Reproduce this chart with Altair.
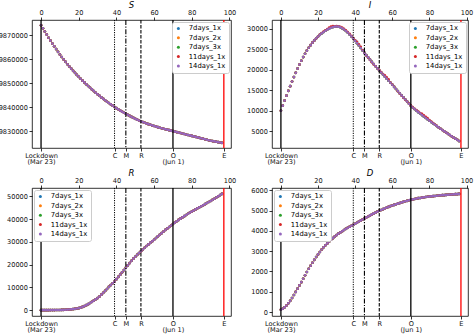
import json
import altair as alt
import pandas as pd

FONT = "DejaVu Sans"

days = list(range(97))
series_names = ["\u20077days_1x", "\u20077days_2x", "\u20077days_3x", "11days_1x", "14days_1x"]
series_colors = ["#1f77b4", "#ff7f0e", "#2ca02c", "#d62728", "#9467bd"]

S_vals = [9874200, 9872900, 9871600, 9870300, 9869000, 9867750, 9866550, 9865400, 9864250, 9863100,
          9862000, 9860950, 9859900, 9858900, 9857900, 9856950, 9856050, 9855150, 9854300, 9853450,
          9852650, 9851850, 9851050, 9850300, 9849550, 9848800, 9848100, 9847400, 9846700, 9846000,
          9845350, 9844700, 9844050, 9843450, 9842850, 9842250, 9841700, 9841150, 9840600, 9840050,
          9839550, 9839050, 9838550, 9838100, 9837650, 9837200, 9836750, 9836300, 9835900, 9835500,
          9835100, 9834750, 9834400, 9834050, 9833750, 9833450, 9833150, 9832850, 9832600, 9832350,
          9832100, 9831850, 9831600, 9831350, 9831150, 9830950, 9830750, 9830550, 9830350, 9830150,
          9829950, 9829750, 9829550, 9829350, 9829150, 9828950, 9828750, 9828550, 9828350, 9828150,
          9827950, 9827750, 9827550, 9827350, 9827150, 9826950, 9826750, 9826550, 9826350, 9826150,
          9825950, 9825800, 9825650, 9825500, 9825350, 9825200, 9825050]

I_vals = [10000, 11250, 12480, 13680, 14850, 16000, 17120, 18200, 19250, 20280,
          21280, 22200, 23080, 23900, 24650, 25350, 26000, 26600, 27150, 27650,
          28100, 28500, 28870, 29200, 29500, 29780, 30020, 30230, 30400, 30500,
          30550, 30500, 30350, 30100, 29800, 29450, 29050, 28600, 28120, 27600,
          27050, 26480, 25900, 25300, 24700, 24100, 23550, 23000, 22450, 21900,
          21380, 20850, 20330, 19820, 19320, 18820, 18320, 17820, 17320, 16830,
          16330, 15820, 15300, 14790, 14270, 13760, 13250, 12740, 12230, 11720,
          11200, 10800, 10410, 10030, 9660, 9300, 8940, 8590, 8240, 7900,
          7560, 7230, 6900, 6580, 6260, 5940, 5620, 5310, 5000, 4690,
          4380, 4080, 3780, 3480, 3190, 2900, 2610]

I_11days_vals = [10000, 11250, 12480, 13680, 14850, 16000, 17120, 18200, 19250, 20280,
                 21280, 22200, 23080, 23900, 24650, 25350, 26000, 26600, 27150, 27650,
                 28100, 28600, 28950, 29300, 29620, 29900, 30300, 30500, 30650, 30600,
                 30650, 30600, 30480, 30250, 29950, 29600, 29200, 28750, 28250, 27700,
                 27200, 26800, 26200, 25600, 24800, 24150, 23500, 22950, 22400, 21850,
                 21300, 20850, 20350, 19900, 19450, 18950, 18650, 18150, 17650, 16900,
                 16400, 15850, 15300, 14750, 14200, 13700, 13200, 12700, 12250, 11750,
                 11300, 10900, 10500, 10150, 9800, 9450, 9250, 8900, 8550, 8200,
                 7700, 7350, 7000, 6650, 6300, 5950, 5600, 5300, 4980, 4680,
                 4370, 4060, 3760, 3470, 3180, 2900, 2620]

R_vals = [0, 5, 10, 15, 20, 30, 40, 50, 60, 80,
          100, 130, 160, 200, 250, 300, 380, 480, 600, 740,
          900, 1150, 1450, 1800, 2200, 2650, 3150, 3650, 4200, 4750,
          5300, 6000, 6800, 7600, 8450, 9300, 10200, 11000, 11800, 12600,
          13600, 14600, 15600, 16600, 17600, 18600, 19650, 20650, 21650, 22600,
          23450, 24250, 25050, 25800, 26600, 27400, 28150, 28850, 29550, 30250,
          30900, 31650, 32400, 33100, 33800, 34500, 35200, 35850, 36500, 37150,
          37800, 38400, 39000, 39600, 40150, 40700, 41250, 41750, 42300, 42800,
          43300, 43750, 44200, 44700, 45150, 45600, 46050, 46500, 47000, 47450,
          47900, 48400, 48900, 49450, 49950, 50500, 51000]

D_vals = [110, 160, 230, 320, 430, 550, 690, 840, 990, 1150,
          1310, 1470, 1640, 1810, 1970, 2130, 2280, 2430, 2570, 2710,
          2840, 2960, 3080, 3190, 3290, 3380, 3470, 3560, 3640, 3720,
          3790, 3860, 3920, 3980, 4040, 4100, 4150, 4200, 4250, 4300,
          4350, 4400, 4460, 4510, 4560, 4610, 4660, 4710, 4760, 4810,
          4860, 4900, 4950, 4990, 5030, 5070, 5110, 5150, 5180, 5220,
          5250, 5280, 5310, 5340, 5370, 5400, 5430, 5460, 5480, 5510,
          5530, 5550, 5570, 5590, 5610, 5620, 5640, 5650, 5670, 5680,
          5690, 5700, 5710, 5720, 5730, 5740, 5750, 5760, 5760, 5770,
          5780, 5790, 5790, 5800, 5810, 5810, 5820]

event_days = [0, 39, 45, 53, 70, 97]
event_labels = [["Lockdown", "(Mar 23)"], ["C"], ["M"], ["R"], ["O", "(Jun 1)"], ["E"]]
top_ticks = [0, 20, 40, 60, 80, 100]
x_domain = [-4.8, 100.8]

label_expr = " : ".join(
    f"datum.value == {d} ? {json.dumps(lab)}" for d, lab in zip(event_days, event_labels)
) + " : ''"


def panel(title, series_values, y_domain, y_ticks, legend_orient, width):
    rows = []
    for k, (name, vals) in enumerate(zip(series_names, series_values)):
        for d, v in zip(days, vals):
            rows.append({"day": d, "value": v, "series": name, "k": k})
    df = pd.DataFrame(rows)
    xs = alt.Scale(domain=x_domain, nice=False, zero=False)
    ys = alt.Scale(domain=y_domain, nice=False, zero=False)

    pts = alt.Chart(df).mark_circle(size=7, opacity=1).encode(
        x=alt.X("day:Q", scale=xs,
                axis=alt.Axis(orient="bottom", values=event_days, labelExpr=label_expr,
                              title=None, grid=False, domain=False, labelLineHeight=6.5,
                              labelPadding=1, labelFlush=False, labelOverlap=False)),
        y=alt.Y("value:Q", scale=ys,
                axis=alt.Axis(values=y_ticks, format="d", title=None, grid=False, domain=False)),
        color=alt.Color("series:N", sort=series_names,
                        scale=alt.Scale(domain=series_names, range=series_colors),
                        legend=alt.Legend(title=None, orient=legend_orient, offset=2,
                                          fillColor="white", strokeColor="#cccccc",
                                          cornerRadius=2, padding=3, labelFont=FONT,
                                          labelFontSize=6.8, symbolType="circle", symbolSize=9,
                                          rowPadding=1.4, labelOffset=7)),
        order=alt.Order("k:Q"),
    )

    top_df = pd.DataFrame({"t": top_ticks})
    top = alt.Chart(top_df).mark_rule(opacity=0).encode(
        x=alt.X("t:Q", scale=xs,
                axis=alt.Axis(orient="top", values=top_ticks, title=None, grid=False,
                              domain=False, labelFlush=False, labelPadding=2))
    )

    def vline(day_list, color, dash, width_px):
        d = pd.DataFrame({"x": day_list})
        kw = dict(color=color, strokeWidth=width_px)
        if dash:
            kw["strokeDash"] = dash
        return alt.Chart(d).mark_rule(**kw).encode(
            x=alt.X("x:Q", scale=xs, axis=None))

    lines = [
        vline([event_days[0], event_days[4]], "black", None, 1.3),
        vline([event_days[1]], "black", [1.2, 1.2], 1.0),
        vline([event_days[2]], "black", [5, 1.5, 1.2, 1.5], 1.1),
        vline([event_days[3]], "black", [3.5, 1.5], 1.1),
        vline([event_days[5]], "red", None, 1.3),
    ]

    return alt.layer(pts, top, *lines).resolve_axis(x="independent").properties(
        width=width, height=128,
        title=alt.TitleParams(title, fontStyle="italic", fontWeight="normal", fontSize=8.5,
                              font=FONT, offset=0),
    )


pS = panel("S", [S_vals] * 5, [9822900, 9876400],
           [9830000, 9840000, 9850000, 9860000, 9870000], "top-right", 199)
pI = panel("I", [I_vals, I_vals, I_vals, I_11days_vals, I_vals], [919, 32126],
           [5000, 10000, 15000, 20000, 25000, 30000], "top-right", 196)
pR = panel("R", [R_vals] * 5, [-2550, 53600],
           [0, 10000, 20000, 30000, 40000, 50000], "top-left", 199)
pD = panel("D", [D_vals] * 5, [-196, 6112],
           [0, 1000, 2000, 3000, 4000, 5000, 6000], "top-left", 196)

chart = alt.concat(pS, pI, pR, pD, columns=2, spacing={"row": 2, "column": 9}).resolve_scale(
    color="independent").resolve_legend(color="independent").properties(
    padding={"left": -3, "top": 0, "right": 0, "bottom": 0}
).configure_view(stroke="black", strokeWidth=0.8).configure_axis(
    labelFont=FONT, labelFontSize=6.6, labelColor="#111111", tickColor="black",
    tickSize=3, tickWidth=0.8, labelPadding=1.5
).configure_title(font=FONT)

chart.save("out.html", embed_options={"renderer": "svg", "actions": False})
